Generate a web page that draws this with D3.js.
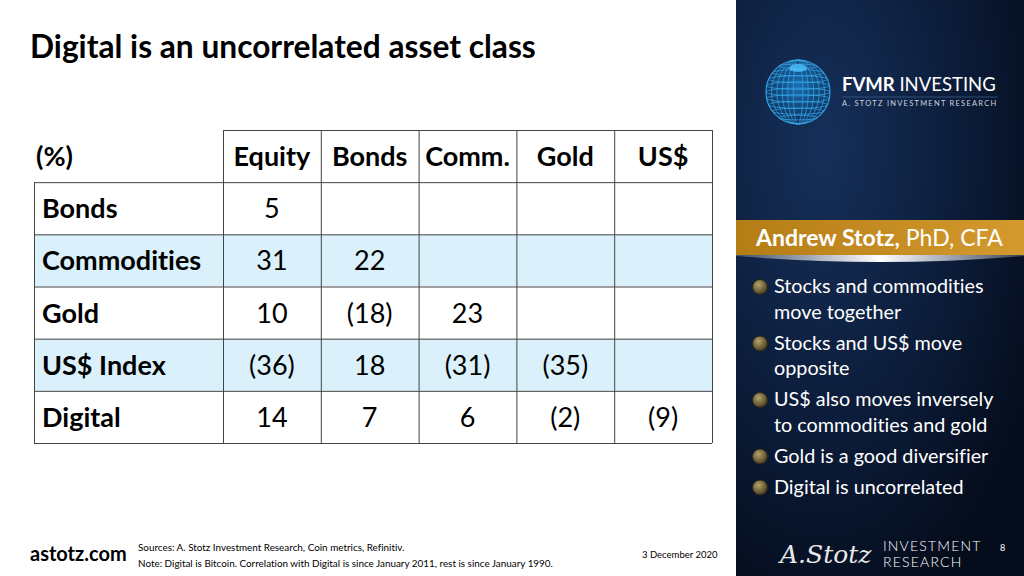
<!DOCTYPE html>
<html>
<head>
<meta charset="utf-8">
<script src="https://cdn.jsdelivr.net/npm/d3@7"></script>
<style>
  body { margin: 0; background: #fff; }
  svg { display: block; }
  text { font-family: Lato, "Open Sans", sans-serif; font-variant-ligatures: none; }
</style>
</head>
<body>
<div class="slide"></div>
<script>
// table data
var colLabels = ["Equity", "Bonds", "Comm.", "Gold", "US$"];
var rowLabels = ["Bonds", "Commodities", "Gold", "US$ Index", "Digital"];
var shadedRows = ["Commodities", "US$ Index"];

// correlation values (%), one array per row, negatives shown in brackets
var bondsRow = [5];
var commoditiesRow = [31, 22];
var goldRow = [10, -18, 23];
var usdRow = [-36, 18, -31, -35];
var digitalRow = [14, 7, 6, -2, -9];
var rowValues = [bondsRow, commoditiesRow, goldRow, usdRow, digitalRow];

var bullets = [
  ["Stocks and commodities", "move together"],
  ["Stocks and US$ move", "opposite"],
  ["US$ also moves inversely", "to commodities and gold"],
  ["Gold is a good diversifier"],
  ["Digital is uncorrelated"]
];

var W = 1024, H = 576;
var svg = d3.select(".slide").append("svg")
  .attr("width", W)
  .attr("height", H);

var defs = svg.append("defs");

// right panel background
var panelGrad = defs.append("radialGradient")
  .attr("id", "panelGrad")
  .attr("cx", "30%").attr("cy", "25%").attr("r", "85%");
panelGrad.append("stop").attr("offset", "0%").attr("stop-color", "#16305a");
panelGrad.append("stop").attr("offset", "55%").attr("stop-color", "#0c1d3b");
panelGrad.append("stop").attr("offset", "100%").attr("stop-color", "#050c1b");

var goldGrad = defs.append("linearGradient").attr("id", "goldGrad");
goldGrad.append("stop").attr("offset", "0%").attr("stop-color", "#b57d16");
goldGrad.append("stop").attr("offset", "100%").attr("stop-color", "#d49a2e");

var sweepGrad = defs.append("linearGradient").attr("id", "sweepGrad");
sweepGrad.append("stop").attr("offset", "0%").attr("stop-color", "#fff").attr("stop-opacity", 0.2);
sweepGrad.append("stop").attr("offset", "50%").attr("stop-color", "#fff").attr("stop-opacity", 1);
sweepGrad.append("stop").attr("offset", "100%").attr("stop-color", "#fff").attr("stop-opacity", 0.2);

var globeGrad = defs.append("radialGradient").attr("id", "globeGrad")
  .attr("cx", "50%").attr("cy", "40%").attr("r", "60%");
globeGrad.append("stop").attr("offset", "0%").attr("stop-color", "#1a6fb0");
globeGrad.append("stop").attr("offset", "100%").attr("stop-color", "#0b2e58");

var bulletGrad = defs.append("radialGradient").attr("id", "bulletGrad")
  .attr("cx", "40%").attr("cy", "35%").attr("r", "65%");
bulletGrad.append("stop").attr("offset", "0%").attr("stop-color", "#b5a36a");
bulletGrad.append("stop").attr("offset", "100%").attr("stop-color", "#4a3f22");

// title
svg.append("text")
  .attr("x", 30).attr("y", 58)
  .style("font-size", "31.7px").style("font-weight", "bold")
  .attr("fill", "#000")
  .text("Digital is an uncorrelated asset class");

// table
var tableLeft = 34, firstColRight = 223, tableRight = 712;
var tableTop = 130, tableBottom = 443;
var cellFont = "27px", baseOff = 10;

var x = d3.scaleBand().domain(colLabels).range([firstColRight, tableRight]);
var y = d3.scaleBand().domain(["header"].concat(rowLabels)).range([tableTop, tableBottom]);

var table = svg.append("g");

// shaded rows
table.selectAll("rect.shade")
  .data(shadedRows)
  .enter()
  .append("rect")
  .attr("class", "shade")
  .attr("x", tableLeft)
  .attr("y", function (d) { return y(d); })
  .attr("width", tableRight - tableLeft)
  .attr("height", y.bandwidth())
  .style("fill", "#daf1fb");

// horizontal lines
var hLines = ["header"].concat(rowLabels);
table.selectAll("line.h")
  .data(hLines)
  .enter()
  .append("line")
  .attr("x1", function (d) { return d === "header" ? firstColRight : tableLeft; })
  .attr("x2", tableRight)
  .attr("y1", function (d) { return y(d) + 0.5; })
  .attr("y2", function (d) { return y(d) + 0.5; })
  .style("stroke", "#444").style("stroke-width", 1);
table.append("line")
  .attr("x1", tableLeft).attr("x2", tableRight)
  .attr("y1", tableBottom + 0.5).attr("y2", tableBottom + 0.5)
  .style("stroke", "#444");

// vertical lines
table.append("line")
  .attr("x1", tableLeft + 0.5).attr("x2", tableLeft + 0.5)
  .attr("y1", y(rowLabels[0])).attr("y2", tableBottom)
  .style("stroke", "#444");
table.selectAll("line.v")
  .data(colLabels)
  .enter()
  .append("line")
  .attr("x1", function (d) { return x(d) + 0.5; })
  .attr("x2", function (d) { return x(d) + 0.5; })
  .attr("y1", tableTop).attr("y2", tableBottom)
  .style("stroke", "#444");
table.append("line")
  .attr("x1", tableRight + 0.5).attr("x2", tableRight + 0.5)
  .attr("y1", tableTop).attr("y2", tableBottom)
  .style("stroke", "#444");

// header texts
table.append("text")
  .attr("x", 36).attr("y", y("header") + y.bandwidth() / 2 + baseOff)
  .style("font-size", cellFont).style("font-weight", "bold")
  .text("(%)");
table.selectAll("text.col")
  .data(colLabels)
  .enter()
  .append("text")
  .attr("x", function (d) { return x(d) + x.bandwidth() / 2; })
  .attr("y", y("header") + y.bandwidth() / 2 + baseOff)
  .attr("text-anchor", "middle")
  .style("font-size", cellFont).style("font-weight", "bold")
  .text(function (d) { return d; });

// row labels
table.selectAll("text.row")
  .data(rowLabels)
  .enter()
  .append("text")
  .attr("x", 42)
  .attr("y", function (d) { return y(d) + y.bandwidth() / 2 + baseOff; })
  .style("font-size", cellFont).style("font-weight", "bold")
  .text(function (d) { return d; });

// values
var fmt = function (v) { return v < 0 ? "(" + Math.abs(v) + ")" : String(v); };
rowLabels.forEach(function (r, i) {
  table.selectAll("text.v" + i)
    .data(rowValues[i])
    .enter()
    .append("text")
    .attr("x", function (d, j) { return x(colLabels[j]) + x.bandwidth() / 2; })
    .attr("y", y(r) + y.bandwidth() / 2 + baseOff)
    .attr("text-anchor", "middle")
    .style("font-size", cellFont)
    .text(function (d) { return fmt(d); });
});

// footer
svg.append("text")
  .attr("x", 30).attr("y", 561)
  .style("font-size", "20px").style("font-weight", "bold")
  .text("astotz.com");
svg.append("text")
  .attr("x", 138).attr("y", 551)
  .style("font-size", "9.9px")
  .text("Sources: A. Stotz Investment Research, Coin metrics, Refinitiv.");
svg.append("text")
  .attr("x", 138).attr("y", 567)
  .style("font-size", "9.9px")
  .text("Note:  Digital is Bitcoin. Correlation with Digital is since January 2011, rest is since January 1990.");
svg.append("text")
  .attr("x", 642).attr("y", 558)
  .style("font-size", "9.5px")
  .text("3 December  2020");

// right panel
var panel = svg.append("g").attr("transform", "translate(736,0)");
panel.append("rect")
  .attr("width", 288).attr("height", H)
  .style("fill", "url(#panelGrad)");

// globe logo
var globe = panel.append("g").attr("transform", "translate(62,92)");
var gr = 32;
globe.append("circle").attr("r", gr)
  .style("fill", "url(#globeGrad)").style("stroke", "#2f9be0").style("stroke-width", 1.2);
d3.range(-0.8, 0.81, 0.2).forEach(function (t) {
  var yy = t * gr, rx = Math.sqrt(gr * gr - yy * yy);
  globe.append("ellipse")
    .attr("cx", 0).attr("cy", yy).attr("rx", rx).attr("ry", rx * 0.12)
    .style("fill", "none").style("stroke", "#3aa6e8").style("stroke-width", 0.7);
});
d3.range(0.15, 1, 0.17).forEach(function (t) {
  globe.append("ellipse")
    .attr("rx", gr * t).attr("ry", gr)
    .style("fill", "none").style("stroke", "#3aa6e8").style("stroke-width", 0.7);
});
globe.append("ellipse").attr("cx", 0).attr("cy", -24).attr("rx", 9).attr("ry", 4)
  .style("fill", "#4fc1ff").style("opacity", 0.8);

var brand = panel.append("text")
  .attr("x", 106).attr("y", 91)
  .style("font-size", "18.5px").attr("fill", "#fff");
brand.append("tspan").style("font-weight", "bold").text("FVMR");
brand.append("tspan").text(" INVESTING");
panel.append("line")
  .attr("x1", 106).attr("x2", 262).attr("y1", 97).attr("y2", 97)
  .style("stroke", "#3a5a85").style("stroke-width", 0.8);
panel.append("text")
  .attr("x", 106).attr("y", 106)
  .style("font-size", "7.5px").style("letter-spacing", "1.25px")
  .attr("fill", "#c9d3df")
  .text("A. STOTZ INVESTMENT RESEARCH");

// gold name band
panel.append("rect")
  .attr("x", 0).attr("y", 220).attr("width", 288).attr("height", 35)
  .style("fill", "url(#goldGrad)");
panel.append("path")
  .attr("d", "M0,255 L288,255 L288,256 Q144,268 0,256 Z")
  .style("fill", "url(#sweepGrad)");
var nameText = panel.append("text")
  .attr("x", 20).attr("y", 246)
  .style("font-size", "23px").attr("fill", "#fff");
nameText.append("tspan").style("font-weight", "bold").text("Andrew Stotz,");
nameText.append("tspan").text(" PhD, CFA");

// bullets
var lineY = 293, lineGap = 25.5, itemGap = 5.5;
var bulletG = panel.append("g");
bullets.forEach(function (b) {
  bulletG.append("circle")
    .attr("cx", 24).attr("cy", lineY - 6).attr("r", 7.5)
    .style("fill", "url(#bulletGrad)").style("stroke", "#2b2614").style("stroke-width", 1);
  b.forEach(function (line) {
    bulletG.append("text")
      .attr("x", 38).attr("y", lineY)
      .style("font-size", "19.8px").attr("fill", "#fff")
      .text(line);
    lineY += lineGap;
  });
  lineY += itemGap;
});

// signature and footer logo
panel.append("text")
  .attr("x", 44).attr("y", 563)
  .style("font-family", "'DejaVu Serif', serif").style("font-style", "italic")
  .style("font-size", "25px").attr("fill", "#e8e8e8")
  .text("A.Stotz");
panel.append("text")
  .attr("x", 147).attr("y", 551)
  .style("font-size", "14px").style("font-weight", "300").style("letter-spacing", "1.2px").attr("fill", "#fff")
  .text("INVESTMENT");
panel.append("text")
  .attr("x", 147).attr("y", 567)
  .style("font-size", "14px").style("font-weight", "300").style("letter-spacing", "1.2px").attr("fill", "#fff")
  .text("RESEARCH");
panel.append("text")
  .attr("x", 264).attr("y", 551)
  .style("font-size", "9px").attr("fill", "#fff")
  .text("8");
</script>
</body>
</html>
